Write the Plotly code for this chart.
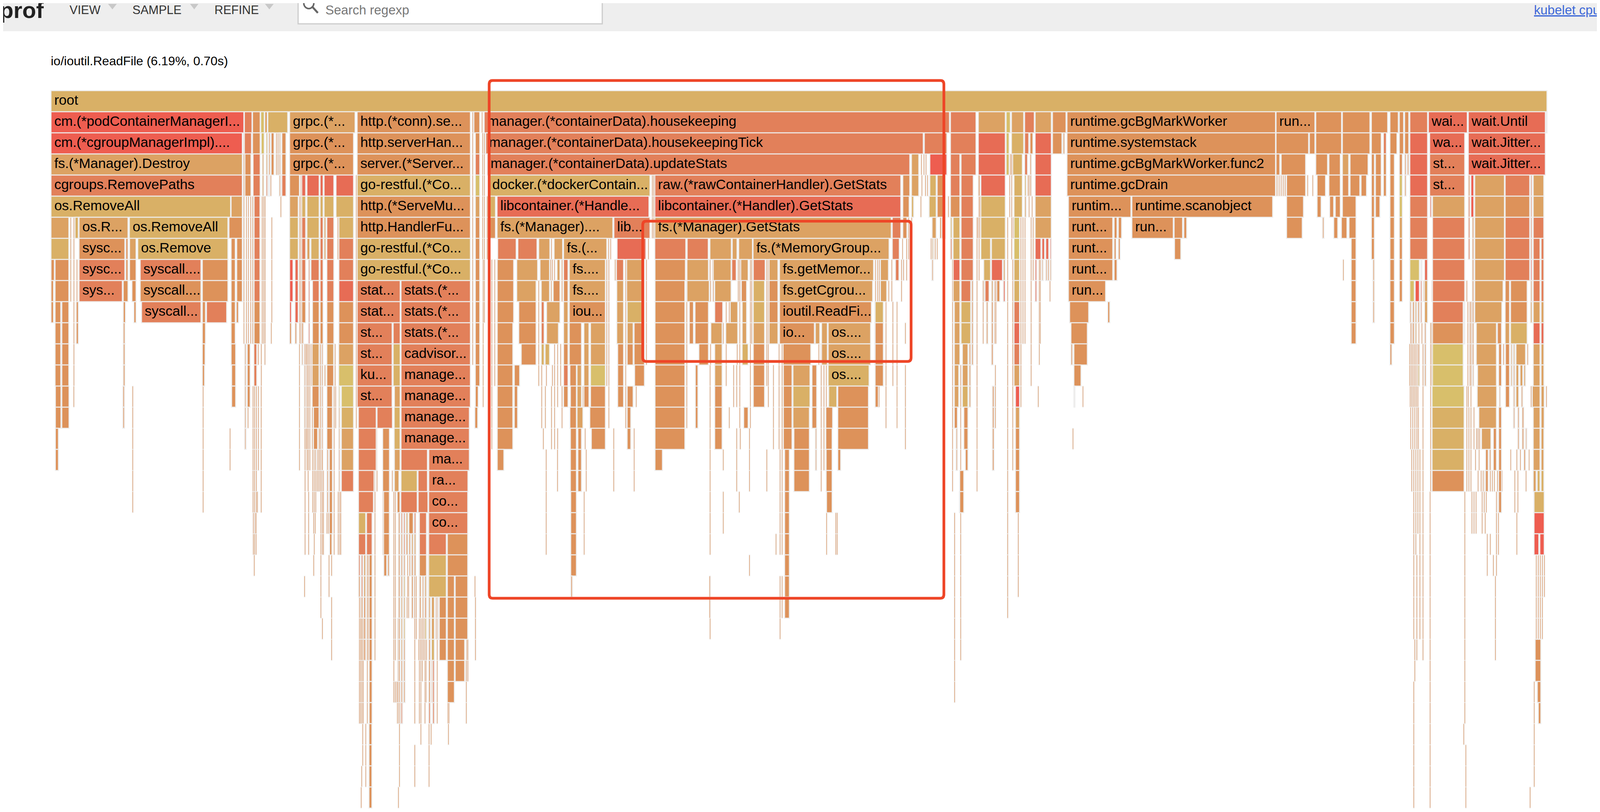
import plotly.graph_objects as go

# flame graph frames per depth: (start, end, heat, label), in samples out of 1466
F00 = [(0, 1466, 1, "root")]
F01 = [(0, 189, 6, "cm.(*podContainerManagerI..."), (189.5, 197, 4), (197.5, 205, 3), (205.5, 209, 0), (209.5, 212, 2), (212.5, 232, 1),
       (233.8, 298, 2, "grpc.(*..."), (300, 411, 3, "http.(*conn).se..."), (414.4, 420.2, 3),
       (424.5, 880.5, 4, "manager.(*containerData).housekeeping"), (881.4, 906.5, 4), (908.7, 935.2, 2), (936, 940.1, 0), (941.2, 953.2, 2),
       (954.1, 963.6, 4), (964.4, 980.3, 2), (981.4, 994.7, 3), (995.6, 1200, 3, "runtime.gcBgMarkWorker"), (1200.5, 1238.6, 3, "run..."),
       (1239.4, 1264.7, 3), (1265.5, 1292.5, 3), (1293.9, 1309.9, 3), (1312.1, 1320.3, 3), (1321.3, 1325.5, 3), (1326.5, 1330.6, 3),
       (1331.6, 1349, 4), (1349.8, 1387.9, 5, "wai..."), (1388.9, 1464.4, 5, "wait.Until"), (1465.2, 1466, 3)]
F02 = [(0, 187.5, 6, "cm.(*cgroupManagerImpl)...."), (189.5, 196.5, 4), (197.5, 205, 3), (206, 209, 0), (210.8, 212.3, 1), (213.3, 214.8, 3),
       (215.7, 218.6, 3), (223.6, 225, 2), (226.2, 230.3, 3), (233.8, 296.5, 3, "grpc.(*..."), (300, 411, 3, "http.serverHan..."), (415.8, 420.2, 3),
       (426, 854.8, 4, "manager.(*containerData).housekeepingTick"), (855.8, 878, 4), (881.4, 906.5, 4), (908.7, 935.2, 5), (936, 939, 0),
       (941.2, 953.2, 1), (954.1, 958.2, 4), (959.3, 962.3, 3), (964.4, 980.3, 5), (981.4, 990.7, 3), (991.8, 993.4, 3),
       (995.6, 1200, 3, "runtime.systemstack"), (1200.5, 1232.4, 3), (1233.2, 1238.6, 3), (1239.4, 1264.7, 3), (1265.5, 1292.5, 3),
       (1293.9, 1303.6, 3), (1305.7, 1308.6, 4), (1312.1, 1319, 3), (1321.3, 1325.5, 3), (1326.5, 1330.6, 3), (1331.6, 1349, 5),
       (1351, 1385.4, 5, "wa..."), (1388.9, 1464.4, 5, "wait.Jitter...")]
F03 = [(0, 187.5, 2, "fs.(*Manager).Destroy"), (190, 196, 3), (198, 205, 4), (207, 208.6, 2), (210.8, 212.3, 2), (213.3, 214.8, 3), (215.7, 218.6, 3),
       (223.6, 225, 3), (226.2, 230.3, 3), (233.8, 296.5, 3, "grpc.(*..."), (300, 411, 3, "server.(*Server..."), (415.8, 420.2, 4),
       (427.5, 841.6, 4, "manager.(*containerData).updateStats"), (843.2, 850.4, 2), (861.2, 878, 6), (881.4, 890.7, 4), (891.8, 906.5, 4),
       (908.7, 935.2, 5), (936, 939, 0), (942.4, 951.9, 1), (954.1, 957, 4), (959.3, 960.8, 3), (964.4, 980.3, 5),
       (995.6, 1200, 3, "runtime.gcBgMarkWorker.func2"), (1200.5, 1204.2, 3), (1205.5, 1229.5, 3), (1239.4, 1251, 3), (1252.3, 1263.5, 3),
       (1265.5, 1271.7, 2), (1273, 1290.7, 3), (1293.9, 1296.9, 3), (1297.9, 1303.6, 3), (1305.7, 1308.6, 3), (1312.1, 1316.5, 3),
       (1321.3, 1324.3, 3), (1326.5, 1328, 3), (1329.1, 1330.6, 3), (1331.6, 1349, 5), (1351, 1385.4, 4, "st..."), (1388.9, 1464.4, 5, "wait.Jitter...")]
F04 = [(0, 187.5, 4, "cgroups.RemovePaths"), (190, 196, 3), (198, 205, 4), (207, 208.6, 2), (210.8, 212.3, 4), (213.3, 214.2, 3),
       (223.6, 225, 3), (226.2, 230.3, 4), (233.8, 243.5, 3), (245.7, 249.6, 5), (250.8, 262.8, 5), (263.7, 266.7, 5), (267.6, 277.2, 5),
       (279.3, 296.5, 5), (300, 411, 1, "go-restful.(*Co..."), (415.8, 420.2, 0), (429.3, 587, 1, "docker.(*dockerContain..."),
       (591.7, 832.8, 4, "raw.(*rawContainerHandler).GetStats"), (834.7, 841.6, 3), (843.2, 850.4, 2), (861.2, 867.5, 1), (868.4, 876.5, 3),
       (881.4, 890.7, 4), (891.8, 903.8, 4), (908.7, 910.4, 3), (911.2, 935.2, 5), (943.7, 951.9, 1), (954.1, 955.7, 1), (959.3, 960.8, 3),
       (964.4, 980.3, 5), (995.6, 1200, 3, "runtime.gcDrain"), (1210.8, 1229.5, 3), (1240.7, 1249, 3), (1252.3, 1263.5, 3), (1265.5, 1271.7, 3),
       (1273, 1282.6, 3), (1283.8, 1289.2, 3), (1293.9, 1296.9, 3), (1297.9, 1303.6, 3), (1305.7, 1308.6, 3), (1312.1, 1316.5, 3), (1321.3, 1324.3, 0),
       (1326.5, 1328, 3), (1331.6, 1349, 5), (1351, 1385.4, 4, "st..."), (1388.9, 1390.5, 3), (1391.4, 1394.3, 6), (1395.2, 1424.3, 2),
       (1425, 1449.1, 4), (1450, 1451.4, 4), (1452.5, 1462.9, 2)]
F05 = [(0, 176, 1, "os.RemoveAll"), (176.5, 187.5, 2), (199, 204.8, 4), (233.8, 242.3, 2), (245.7, 249.6, 1), (250.8, 262.8, 1), (263.7, 266.7, 1),
       (267.6, 277.2, 1), (279.3, 296.5, 1), (300, 411, 3, "http.(*ServeMu..."), (415.8, 420.2, 2), (429.3, 435.6, 1),
       (437.1, 586, 5, "libcontainer.(*Handle..."), (591.7, 832.8, 5, "libcontainer.(*Handler).GetStats"), (834.7, 841, 3), (843.2, 845.4, 1),
       (860.5, 867.5, 1), (868.4, 876.5, 3), (881.4, 890.7, 3), (891.8, 903.8, 4), (911.2, 935.2, 1), (943.7, 951.9, 1), (954.1, 955.7, 2),
       (964.4, 980.3, 2), (997, 1058.3, 3, "runtim..."), (1059.2, 1197.2, 3, "runtime.scanobject"), (1210.8, 1227.4, 3), (1240.7, 1244.7, 3),
       (1253, 1257, 3), (1258.5, 1263.5, 3), (1265.5, 1278.9, 3), (1293.9, 1296.9, 3), (1297.9, 1302.3, 3), (1312.1, 1316.5, 3), (1321.3, 1324.3, 0),
       (1331.6, 1349, 4), (1351.3, 1352.8, 5), (1353.8, 1385.4, 2), (1388.9, 1390.5, 4), (1391.4, 1394.3, 6), (1395.2, 1424.3, 2), (1425, 1449.1, 3),
       (1450, 1451.4, 4), (1452.5, 1462.9, 2)]
F06 = [(0, 17.5, 2), (23.5, 26.8, 1), (27.5, 75.5, 2, "os.R..."), (76.8, 173.4, 1, "os.RemoveAll"), (174.4, 187.5, 3), (199, 204.8, 4), (233.8, 242.3, 1),
       (245.7, 249.6, 4), (250.8, 262.8, 1), (263.7, 266.7, 4), (267.6, 269.4, 2), (270.3, 277.2, 4), (282.1, 296.5, 1), (300, 411, 3, "http.HandlerFu..."),
       (415.8, 420.2, 3), (429.3, 435.6, 3), (437.1, 550.6, 2, "fs.(*Manager)...."), (551.6, 587, 4, "lib..."), (591.7, 823.4, 2, "fs.(*Manager).GetStats"),
       (824.4, 832.8, 4), (834.7, 838.8, 3), (863.4, 867.5, 2), (871, 872.7, 3), (873, 876.5, 3), (881.4, 883, 1), (884, 890.7, 1), (891.8, 903.8, 4),
       (911.2, 935.2, 1), (943.7, 949.2, 0), (964.4, 980.3, 2), (997, 1040.5, 3, "runt..."), (1041.8, 1044.7, 3), (1045.9, 1049.2, 3),
       (1059.2, 1099.8, 3, "run..."), (1100.6, 1108.9, 3), (1110.1, 1113, 3), (1210.8, 1226.2, 3), (1246, 1247.5, 3), (1257, 1261, 3), (1264.5, 1270, 3),
       (1272, 1278.9, 3), (1293.9, 1296.9, 3), (1312.1, 1316.5, 3), (1321.3, 1324.3, 2), (1331.6, 1349, 4), (1353.8, 1385.4, 4), (1388.9, 1390.5, 4),
       (1392.7, 1394.3, 3), (1395.2, 1424.3, 2), (1425, 1449.1, 4), (1450, 1451.4, 4), (1452.5, 1462.9, 4)]
F07 = [(0, 17.5, 1), (27.5, 72.4, 3, "sysc..."), (73.3, 75.5, 3), (77, 83.4, 2), (85, 173.4, 1, "os.Remove"), (176.5, 180.6, 3), (182, 187.5, 3), (199, 204.8, 4),
       (233.8, 242.3, 1), (245.7, 249.6, 4), (250.8, 253.7, 2), (254.7, 262.8, 1), (263.7, 266.7, 4), (267.6, 269.4, 2), (270.3, 277.2, 4), (282.1, 296.5, 4),
       (300, 411, 1, "go-restful.(*Co..."), (415.8, 420.2, 3), (437.7, 455.9, 4), (457.5, 476.3, 4), (477.9, 488.9, 2), (493, 501.4, 2),
       (502.3, 544.7, 2, "fs.(..."), (554.7, 583, 5), (591.7, 622.1, 4), (623.4, 644.1, 4), (645.7, 666.7, 2), (667.6, 672.3, 2), (673.9, 687.4, 2),
       (688, 821.3, 2, "fs.(*MemoryGroup..."), (824.4, 831.3, 4), (863.4, 864.8, 2), (881.4, 883, 4), (884, 890.7, 1), (891.8, 903.8, 4), (911.2, 920.7, 1),
       (921.6, 935.2, 1), (943.7, 949.2, 0), (964.4, 970.1, 5), (971, 973.7, 5), (974.8, 977.8, 5), (979, 980.3, 5), (997, 1040.5, 3, "runt..."),
       (1041.8, 1043.8, 3), (1045.9, 1047.8, 3), (1101, 1107.2, 3), (1274.1, 1278.9, 3), (1293.9, 1296.9, 3), (1312.1, 1316.5, 3), (1321.3, 1324.3, 3),
       (1331.6, 1349, 4), (1353.8, 1385.4, 4), (1388.9, 1390.5, 4), (1392.7, 1394.3, 3), (1395.2, 1424.3, 2), (1425, 1449.1, 4), (1450, 1451.4, 4),
       (1452.5, 1459.2, 4), (1460.2, 1463, 4)]
F08 = [(0, 3.3, 3), (4, 17.5, 3), (27.5, 72.4, 4, "sysc..."), (73.3, 75.5, 3), (77, 83.4, 3), (87.4, 147, 4, "syscall...."), (148.3, 173.4, 3), (176.5, 180.6, 3),
       (182, 187.5, 3), (199, 204.8, 4), (233.8, 237.2, 6), (239.1, 242.3, 5), (245.7, 249.6, 4), (252.3, 253.7, 4), (254.7, 262.8, 4), (263.7, 266.7, 4),
       (270.3, 277.2, 4), (282.1, 296.5, 4), (300, 411, 1, "go-restful.(*Co..."), (415.8, 420.2, 3), (437.3, 453.4, 3), (456.4, 476.9, 2), (479.2, 488.6, 2),
       (495.9, 498.8, 2), (502.3, 506.7, 4), (507.9, 543.3, 2, "fs...."), (554.1, 561.1, 4), (564.1, 581.6, 2), (591.9, 621.7, 3), (623.2, 644.3, 2),
       (649, 666.5, 2), (667.1, 671.5, 4), (675.9, 683.2, 2), (688.2, 699.9, 4), (703.7, 712.4, 2), (713.9, 806.1, 2, "fs.getMemor..."), (812.8, 820.7, 2),
       (827.5, 831, 4), (863.2, 864.6, 3), (884.1, 890.7, 5), (891.8, 903.8, 4), (914, 920.7, 1), (921.6, 932.4, 5), (933.3, 935, 2), (943.7, 949.2, 1),
       (964.4, 966, 5), (971, 972.3, 3), (974.8, 976.2, 3), (979, 980.3, 3), (997, 1040.5, 3, "runt..."), (1041.8, 1044.7, 3), (1274.1, 1278.9, 3),
       (1295.4, 1296.9, 3), (1312.1, 1316.5, 3), (1321.3, 1324.3, 3), (1331.6, 1341, 0), (1342.5, 1343.5, 4), (1346, 1349, 5), (1353.8, 1385.4, 4),
       (1392.7, 1394.3, 3), (1395.2, 1424.3, 2), (1425, 1449.1, 4), (1450, 1451.4, 6), (1452.5, 1459.2, 4), (1460.2, 1463, 4)]
F09 = [(0, 2.5, 3), (4, 17.5, 3), (27.5, 69.9, 4, "sys..."), (70.8, 75.5, 3), (79.3, 83.4, 3), (87.4, 147, 3, "syscall...."), (148.3, 173.4, 3), (176.5, 180.6, 3),
       (182, 187.5, 3), (199, 204.8, 4), (233.8, 237.2, 6), (239.1, 242.3, 5), (245.7, 249.6, 4), (252.3, 253.7, 5), (256.2, 262.8, 4), (263.7, 266.7, 4),
       (270.3, 277.2, 4), (282.1, 296.5, 5), (300, 342.2, 4, "stat..."), (343, 411, 4, "stats.(*..."), (415.8, 420.2, 3), (437.3, 453.4, 3), (456.4, 475.4, 2),
       (480.4, 488.6, 2), (492.1, 498.8, 3), (502.3, 506.7, 3), (507.9, 543.3, 2, "fs...."), (554.4, 561.1, 2), (564.1, 581.6, 2), (591.9, 621.2, 3),
       (623.2, 645.1, 2), (650.4, 666.5, 2), (676.5, 681.7, 3), (688.2, 699.3, 1), (703.7, 712.4, 3), (713.9, 805.2, 2, "fs.getCgrou..."), (812.8, 819, 2),
       (884.1, 890.7, 2), (891.8, 901.3, 4), (902.2, 903.8, 3), (915.3, 919.3, 4), (921.6, 923.3, 2), (926.8, 929.8, 3), (933.3, 935, 5), (943.7, 949.2, 1),
       (964.4, 966, 5), (997, 1033.5, 3, "run..."), (1274.1, 1278.9, 3), (1295.4, 1296.9, 3), (1312.1, 1316.5, 3), (1321.3, 1324.3, 3), (1331.6, 1336, 0),
       (1336.8, 1341, 6), (1342.1, 1343.5, 5), (1346, 1349, 2), (1353.8, 1385.4, 4), (1392.7, 1394.3, 3), (1395.2, 1423, 2), (1425, 1429.3, 3),
       (1430.3, 1446.6, 3), (1450, 1451.4, 3), (1452.5, 1459.2, 4), (1460.2, 1463, 4)]
F10 = [(0, 2.5, 3), (4, 9.6, 3), (10.6, 17.5, 3), (24.7, 26.9, 3), (70.8, 73, 3), (81.2, 83.4, 3), (88.7, 147, 4, "syscall..."), (148.3, 151.4, 3), (152.4, 172.2, 4),
       (176.5, 180.6, 3), (181.6, 183.8, 3), (199, 204.8, 3), (233.8, 235.7, 6), (239.1, 242.3, 5), (245.7, 249.6, 3), (252.3, 253.7, 4), (256.2, 262.8, 3),
       (263.7, 266.7, 3), (270.3, 277.2, 3), (282.1, 296.5, 3), (300, 342.2, 4, "stat..."), (343, 411, 4, "stats.(*..."), (415.8, 420.2, 3), (437.3, 453.4, 3),
       (458.4, 475.4, 3), (480.4, 483.3, 4), (485.6, 498.8, 2), (502.3, 506.7, 2), (507.9, 543.3, 3, "iou..."), (554.4, 561.1, 2), (564.6, 581.6, 1),
       (591.9, 621.2, 3), (625.5, 629.6, 3), (631.1, 644.3, 3), (650.4, 658.3, 4), (665.6, 673, 2), (677.3, 681.7, 2), (688.2, 699.3, 1), (703.7, 712.4, 3),
       (713.9, 804, 3, "ioutil.ReadFi..."), (807.6, 815.7, 1), (885.2, 890.7, 2), (891.8, 901.3, 1), (902.2, 903.8, 3), (916.6, 918.2, 3), (921.6, 923.3, 3),
       (943.7, 949.2, 4), (998.2, 1016.9, 3), (1035.5, 1037.6, 3), (1274.1, 1278.9, 3), (1295.4, 1296.9, 3), (1312.1, 1316.5, 3), (1331.6, 1333, 3),
       (1334.3, 1336, 3), (1336.8, 1338.3, 2), (1339.4, 1341, 3), (1342.1, 1343.5, 4), (1346, 1349, 2), (1353.8, 1383.9, 4), (1384.5, 1385.4, 3),
       (1392.7, 1394.3, 3), (1395.2, 1421.8, 2), (1425, 1429.3, 3), (1430.3, 1446.6, 3), (1449.8, 1451.4, 2), (1452.5, 1459.2, 2), (1460.2, 1463, 2)]
F11 = [(4, 9.6, 3), (10.6, 17.5, 3), (24.7, 26.9, 3), (70.8, 72.5, 3), (148.3, 151.4, 3), (176.5, 180.6, 3), (199, 204.8, 3), (233.8, 235.7, 3), (239.1, 240.8, 3),
       (245.7, 247.4, 3), (252.3, 253.7, 5), (256.2, 262.8, 3), (263.7, 266.7, 3), (270.3, 277.2, 3), (282.1, 296.5, 3), (300, 334.3, 4, "st..."), (335.3, 342.2, 4),
       (343, 411, 4, "stats.(*..."), (415.8, 420.2, 3), (437.3, 452.6, 3), (458.4, 475.4, 3), (480.4, 483.3, 4), (485.6, 497.3, 2), (502.3, 506.7, 2),
       (507.9, 519.9, 3), (522.2, 527.2, 2), (528.7, 543.3, 2), (554.4, 561.1, 2), (564.6, 570.5, 2), (571.4, 581.6, 3), (591.9, 621.2, 3), (625.5, 629.6, 3),
       (631.1, 644.3, 3), (646.6, 657.7, 2), (661.2, 673, 2), (677.3, 681.7, 2), (688.2, 699.3, 2), (703.7, 712.4, 2), (713.9, 748.1, 3, "io..."), (749, 753.4, 2),
       (755.1, 760.8, 2), (761.6, 803.2, 2, "os...."), (807.6, 815.7, 3), (885.2, 890.7, 2), (891.8, 901.3, 1), (902.2, 903.8, 3), (916.6, 918.2, 3),
       (921.6, 923.3, 3), (943.7, 949.2, 5), (999.5, 1015.6, 3), (1274.1, 1278.9, 3), (1312.1, 1316.5, 3), (1334.3, 1336, 3), (1336.8, 1338.3, 2), (1346, 1347.5, 3),
       (1353.8, 1383.9, 3), (1384.5, 1385.4, 3), (1392.7, 1394.3, 3), (1396.7, 1416.5, 2), (1417.4, 1421.5, 3), (1425, 1429.3, 2), (1430.3, 1446.6, 1),
       (1452.5, 1459.2, 5), (1460.2, 1463, 5)]
F12 = [(4, 9.6, 3), (10.6, 17.5, 3), (70.8, 72.5, 3), (148.3, 151, 3), (176.5, 181, 3), (189.8, 191.2, 3), (192.3, 195.2, 3), (198.8, 201.7, 4), (245.7, 247, 3),
       (255.9, 262.7, 2), (265.2, 266.6, 3), (270.3, 277, 2), (281.9, 296.5, 2), (300, 334.3, 4, "st..."), (335.3, 342.2, 1), (343, 411, 4, "cadvisor..."), (415.8, 420.2, 3),
       (437.3, 452.6, 3), (460.8, 475.4, 3), (480.4, 483.3, 1), (484.2, 488.6, 1), (502.3, 506.7, 3), (507.9, 519.9, 3), (522.2, 527.2, 2), (528.7, 543.3, 2),
       (555.3, 561.1, 3), (564.6, 570.5, 3), (571.4, 581.6, 3), (591.9, 621.2, 3), (634.9, 644.3, 3), (650.4, 657.7, 2), (677.3, 683.2, 1), (688.2, 699.3, 3),
       (717.4, 744.6, 3), (755.1, 760.8, 2), (761.6, 803.2, 2, "os...."), (807.6, 815.7, 3), (885.2, 890.7, 2), (893.1, 898.6, 2), (899.7, 901.3, 3), (902.2, 903.8, 3),
       (921.6, 923.3, 3), (943.7, 949.2, 4), (999.5, 1001.1, 3), (1002.4, 1015.6, 3), (1312.1, 1314, 3), (1339.6, 1341.2, 3), (1346, 1347.5, 3), (1353.8, 1383.9, 0),
       (1392.7, 1394.3, 3), (1396.7, 1416.5, 2), (1418.6, 1421.5, 3), (1425.3, 1429.3, 3), (1430.6, 1432, 2), (1433.1, 1434.5, 2), (1435.6, 1445, 2),
       (1452.5, 1459.2, 2), (1460.2, 1463, 2)]
F13 = [(4, 9.6, 3), (10.6, 17.5, 3), (70.8, 72.5, 3), (148.3, 150.5, 3), (177, 181, 3), (189.8, 191.2, 3), (192.3, 195.2, 3), (198.8, 201.7, 4), (248.2, 249.6, 3),
       (255.9, 262.7, 2), (265.2, 266.6, 3), (270.3, 277, 3), (281.9, 296.5, 0), (300, 334.3, 4, "ku..."), (335.3, 342.2, 1), (343, 411, 4, "manage..."), (415.8, 420.2, 3),
       (437.3, 452.6, 3), (454, 459.3, 3), (502.3, 506.7, 4), (508.5, 514.9, 3), (515.5, 519.9, 2), (522.2, 527.2, 2), (528.7, 543.3, 0), (555.3, 561.1, 3),
       (571.9, 581.6, 3), (591.9, 621.2, 3), (631.4, 634, 3), (650.4, 657.7, 2), (688.2, 699.3, 3), (717.7, 726.2, 3), (727.1, 743.8, 2), (745.7, 750.4, 3),
       (761.6, 801.7, 1, "os...."), (807.6, 815.7, 3), (885.2, 889.6, 2), (893.1, 898.6, 2), (899.7, 901.3, 3), (943.7, 949.2, 2), (1002.4, 1009.4, 3),
       (1339.6, 1341.2, 1), (1346, 1347.5, 3), (1353.8, 1383.9, 0), (1393, 1394.3, 3), (1397.9, 1416.5, 2), (1418.6, 1421.5, 3), (1425.3, 1429.3, 3),
       (1430.6, 1432, 2), (1433.1, 1434.5, 3), (1435.6, 1438.3, 2), (1439.6, 1442.3, 2), (1443.3, 1445, 2), (1452.5, 1459.2, 2), (1460.2, 1463, 2)]
F14 = [(4.3, 9.8, 3), (10.6, 17.7, 3), (70.4, 72, 3), (177, 181, 3), (189.8, 191.2, 3), (192.3, 195.2, 3), (248.2, 249.6, 3), (255.9, 262.7, 3), (265.2, 266.6, 3),
       (270.3, 275.8, 3), (281.9, 283.2, 0), (284.5, 296.5, 0), (300, 334.3, 4, "st..."), (336.5, 342.2, 2), (343, 411, 4, "manage..."), (415.8, 418.7, 3), (437.3, 452.6, 3),
       (454, 457.3, 3), (502.3, 506.7, 3), (509, 514.9, 3), (515.5, 519.9, 2), (522.2, 527.2, 3), (528.7, 543.3, 3), (555.3, 561.1, 3), (564.6, 570.5, 3),
       (591.9, 621.2, 3), (631.4, 634, 3), (650.4, 657.7, 3), (688.2, 699.3, 3), (717.7, 726.2, 3), (727.1, 743.8, 1), (745.7, 750.4, 3), (762.1, 770.1, 1),
       (771, 801.1, 3), (807.6, 810.8, 3), (885.2, 889.6, 2), (893.1, 898.6, 1), (899.7, 901.3, 3), (922.5, 924.2, 3), (945.1, 949.2, 6), (1002.4, 1003.4, 3),
       (1353.4, 1384.8, 0), (1397.6, 1416.7, 2), (1419.2, 1420.5, 3), (1425.3, 1429.3, 3), (1433.1, 1434.5, 3), (1435.6, 1438.3, 2), (1440.8, 1442.3, 3),
       (1451.6, 1459.2, 2), (1460.2, 1463.3, 2)]
F15 = [(4.3, 9.8, 3), (10.6, 17.7, 3), (70.4, 72, 3), (189.8, 191.2, 3), (248.2, 249.6, 3), (257.2, 262.7, 3), (265.2, 266.6, 3), (270.3, 275.8, 3), (281.9, 283.2, 3),
       (284.5, 296.5, 1), (301.2, 318.7, 4), (319.5, 334.6, 4), (336.3, 342.1, 1), (343, 410, 4, "manage..."), (415.3, 418.2, 3), (437.3, 452.6, 3), (454, 457.3, 3),
       (508.5, 514.9, 3), (515.5, 521.3, 2), (528, 543.3, 3), (564.6, 568.2, 3), (591.9, 621.2, 3), (631.4, 634, 3), (650.4, 657.7, 3), (678.8, 683.2, 3),
       (717.7, 726.2, 3), (727.1, 743.2, 2), (745.7, 750.4, 3), (759.3, 766, 3), (771, 801.1, 3), (885.2, 888.3, 3), (894.5, 898.6, 3), (922.5, 924.2, 3),
       (945.1, 949.2, 2), (1353.4, 1384.8, 1), (1399.2, 1416.5, 2), (1418.6, 1421.5, 3), (1433.1, 1434.5, 3), (1437.3, 1438.8, 3), (1441.6, 1443.3, 3),
       (1452.5, 1459.2, 2), (1460.2, 1463.3, 2)]
F16 = [(4.3, 7.3, 3), (189.8, 191.2, 3), (257.2, 261.3, 3), (265.2, 266.6, 3), (270.3, 275.8, 3), (281.9, 283.2, 3), (284.5, 296.5, 2), (301.2, 318.7, 4), (325, 331.7, 3),
       (336.3, 342.1, 1), (343, 410, 4, "manage..."), (437.3, 452.6, 3), (509, 514.9, 3), (516.3, 519.9, 3), (529.5, 543.3, 3), (564.6, 568.2, 3), (591.9, 621.2, 3),
       (650.4, 657.7, 3), (717.7, 726.2, 3), (728, 743.2, 3), (749, 750.4, 3), (759.3, 765.5, 3), (771, 801.1, 3), (886.9, 888.3, 3), (894.5, 898.6, 3), (922.5, 924.2, 3),
       (945.1, 949.2, 3), (1353.4, 1384.8, 1), (1401.8, 1411.1, 2), (1413.4, 1416.5, 3), (1418.6, 1421.5, 3), (1437.3, 1438.8, 3), (1441.6, 1443.3, 3), (1445, 1446.3, 3),
       (1452.5, 1459.2, 2), (1460.2, 1463, 2)]
F17 = [(4.3, 7.3, 3), (258.6, 260, 3), (265, 266.6, 3), (270.3, 271.8, 3), (272.8, 275.8, 3), (281.9, 283.2, 4), (284.5, 296.5, 2), (301.2, 318.7, 4), (325, 331.7, 3),
       (336.5, 342.1, 2), (343, 368.9, 4), (370.2, 410, 4, "ma..."), (437.3, 443.8, 3), (509, 514.9, 3), (516.3, 519.9, 3), (591.9, 599.2, 3), (718.9, 723.6, 3),
       (728, 743.2, 3), (749, 750.4, 3), (759.6, 765.5, 3), (771, 773.9, 3), (886.9, 888.3, 3), (896, 898.6, 3), (922.5, 924.2, 3), (945.1, 949.2, 3), (1353.4, 1384.8, 1),
       (1405.8, 1408.4, 3), (1409.5, 1411.1, 3), (1413.4, 1416.5, 3), (1418.6, 1421.5, 3), (1443.3, 1445, 3), (1452.5, 1459.2, 2), (1460.2, 1463, 2)]
F18 = [(270.3, 271.8, 3), (272.8, 275.8, 3), (281.9, 283.2, 3), (284.5, 296.5, 4), (301.2, 316.6, 4), (325, 331.7, 3), (336.5, 341, 2), (343, 358.9, 1), (359.7, 368.9, 4),
       (370.2, 408.6, 4, "ra..."), (509, 514.9, 3), (516.3, 519.9, 3), (718.9, 723.6, 3), (728, 743.2, 3), (759.6, 765.5, 3), (890.5, 894.5, 3), (945.1, 949.2, 3),
       (1353.4, 1384.8, 3), (1405.8, 1408.4, 3), (1418.6, 1421.5, 3), (1452.5, 1455.4, 2), (1456.4, 1459.2, 1), (1460.2, 1463, 1)]
F19 = [(270.3, 271.8, 3), (272.8, 275.8, 3), (301.3, 316, 4), (325.9, 331.6, 3), (339.2, 342, 3), (342.8, 358.9, 4), (359.8, 369.4, 4), (370.1, 408.4, 4, "co..."),
       (509.3, 514.9, 3), (718.9, 723.6, 3), (760, 765.5, 3), (890.5, 894.5, 3), (945.1, 949.2, 3), (1418.6, 1421.5, 3), (1453.3, 1463.3, 1)]
F20 = [(272.8, 275.8, 3), (301.3, 308.4, 1), (309.2, 314.7, 4), (325.9, 331.6, 3), (340.4, 342, 3), (343, 344.5, 4), (345.6, 347.1, 4), (348, 349.7, 2), (350.7, 355, 3),
       (355.9, 357.6, 4), (361, 368, 4), (370.1, 408.4, 4, "co..."), (509.3, 514.9, 3), (718.9, 723.6, 3), (1453.3, 1463.3, 6)]
F21 = [(273, 275.3, 3), (301.3, 308.4, 4), (309.2, 314.7, 4), (325.9, 331.6, 3), (340.4, 342, 3), (343, 344.5, 3), (345.6, 347.1, 4), (348, 349.7, 3), (350.7, 352.3, 3),
       (353.3, 355, 2), (355.9, 357.6, 2), (361, 368, 4), (370.1, 387.4, 4), (388.4, 408.4, 3), (509.3, 514.9, 3), (718.9, 723.6, 3), (1453.3, 1458, 6), (1459, 1463.3, 6)]
F22 = [(301.4, 303, 4), (304, 305.6, 4), (306.5, 308.4, 2), (311.8, 314.7, 3), (326.1, 329, 3), (329.9, 331.6, 3), (340.4, 342, 3), (343, 344.5, 3), (345.6, 347.1, 3),
       (353.3, 355, 3), (355.9, 357.6, 3), (361, 368, 3), (370.1, 387.4, 1), (388.4, 408.4, 3), (509.3, 514.9, 3), (718.9, 723.6, 3)]
F23 = [(301.4, 303, 3), (304, 305.6, 4), (306.5, 308.4, 2), (311.8, 314.7, 3), (340.4, 342, 3), (343, 344.5, 3), (345.6, 347.1, 1), (353.3, 355, 3), (361, 362.7, 3),
       (366.3, 368, 2), (370.1, 387.4, 1), (388.4, 395.3, 3), (396.1, 408.4, 3), (509.4, 511, 3), (718.9, 723.6, 3)]
F24 = [(304, 305.6, 3), (306.5, 308.4, 3), (311.8, 314.7, 3), (340.4, 342, 3), (343, 344.5, 2), (345.6, 347.1, 2), (353.3, 355, 3), (361, 362.7, 3), (366.3, 368, 3),
       (370.1, 371.8, 2), (372.9, 375.7, 2), (378.1, 379.4, 3), (380.5, 387.4, 3), (388.4, 395.3, 3), (396.1, 408.4, 3), (718.9, 723.6, 3)]
F25 = [(306.5, 308.4, 3), (311.8, 314.7, 3), (340.4, 342, 3), (343, 344.5, 2), (345.6, 347.1, 1), (366.3, 368, 1), (370.1, 371.8, 2), (372.9, 375.7, 2), (378.1, 379.4, 3),
       (380.5, 387.4, 3), (388.4, 395.3, 3), (396.1, 408.4, 3)]
F26 = [(306.5, 308.4, 3), (311.8, 314.7, 3), (340.4, 342, 3), (343, 344.5, 2), (345.6, 347.1, 3), (370.1, 371.8, 3), (372.9, 375.7, 1), (380.5, 387.4, 3), (388.4, 395.3, 3),
       (396.1, 405.4, 3), (1454.4, 1460, 3)]
F27 = [(311.8, 314.7, 3), (340.4, 342, 3), (343, 344.5, 3), (345.6, 347.1, 3), (370.1, 371.8, 3), (374, 375.7, 4), (388.4, 395.3, 3), (396.1, 405.4, 3), (1454.4, 1460, 3)]
F28 = [(311.8, 314.7, 3), (343, 344.5, 3), (345.6, 347.1, 3), (370.1, 371.8, 3), (374, 375.7, 4), (388.4, 395.3, 3), (1456.5, 1460, 3)]
F29 = [(311.8, 314.7, 3), (343, 344.5, 4), (370.1, 371.8, 4), (374, 375.7, 4), (1457.5, 1460, 3)]
F30 = [(311.6, 314.5, 3)]
F31 = [(311.6, 314.5, 3)]
F32 = [(311.6, 314.5, 3)]
F33 = [(311.6, 314.5, 3)]

# one-sample frames too thin to carry a fill of their own, per depth
T01 = [412.8, 422]
T02 = [188.6, 220.4, 222, 412.8, 422.5, 424.2]
T03 = [188.6, 220.4, 222, 412.8, 422.5, 424.2, 852.5, 855, 857, 893, 937, 939.8, 941]
T04 = [188.6, 215, 225.5, 244.6, 298.7, 412.8, 422.5, 424.2, 588.8, 590.3, 853, 856.5, 858.5, 939, 941, 957, 958, 1201, 1203, 1205, 1207, 1208.9, 1231, 1236]
T05 = [188.6, 191, 193, 195.2, 197.2, 206.5, 208, 209.3, 224.8, 243.3, 244.6, 298.7, 412.8, 422.5, 424.2, 427, 588.8, 590.3, 852, 879, 909, 910, 939, 941, 958, 961]
T06 = [18.9, 22, 188.6, 191, 193, 195.2, 197.2, 206.5, 208, 209.3, 215.9, 243.3, 244.6, 280.7, 298.7, 412.8, 422.5, 424.2, 427, 588.8, 590.3, 840, 843, 907, 908, 909.5, 937, 941, 942.5, 950, 952, 954, 960, 962]
T07 = [18.9, 22, 188.6, 191, 193, 195.2, 197.2, 206.5, 208, 209.3, 215.9, 243.3, 244.6, 280.7, 298.7, 412.8, 422.5, 424.2, 427, 490, 546, 548, 585, 834, 838, 840, 862, 866, 868, 907, 909, 937, 941, 950, 952, 954, 960, 962]
T08 = [18.9, 22, 25, 188.6, 191, 193, 195.2, 197.2, 206.5, 208, 209.3, 215.9, 243.3, 244.6, 298.7, 412.8, 424.2, 423, 431.5, 434.4, 489.2, 490.9, 493, 500.3, 544.2, 546.2, 552.4, 562.7, 583, 645.4, 648.1, 673, 674.5, 684.9, 686.2, 701, 702.5, 807.5, 809.5, 811.2, 823.5, 833, 835, 838, 883, 907, 909, 937, 942, 950, 952, 954, 960, 962, 968, 969, 977, 1266]
T09 = [18.9, 22, 25, 188.6, 191, 193, 195.2, 197.2, 206.5, 208, 209.3, 215.9, 243.3, 244.6, 298.7, 412.8, 424.2, 423, 431.5, 434.4, 477.5, 489.8, 500.3, 544.2, 546.2, 562.7, 583, 622.6, 645.9, 648.5, 673, 674.5, 684.9, 686.2, 701, 702.5, 807.5, 809.5, 811.2, 820.5, 823.5, 833, 883, 907, 913, 914.5, 924.5, 925.5, 937, 942, 950, 952, 954, 960, 968, 969, 978.5, 1343, 1345, 1353, 1384, 1387]
T10 = [22, 25, 188.6, 191, 193, 195.2, 197.2, 206.5, 208, 209.3, 215.9, 243.3, 244.6, 298.7, 412.8, 424.2, 423, 431.5, 434.4, 477.5, 544.2, 546.2, 562.7, 583, 622.6, 661.2, 664.2, 674.5, 684.9, 686.2, 701, 702.5, 807, 817.8, 824.5, 828.6, 883, 907, 913, 924.5, 925.5, 937, 942, 950, 952, 954, 960, 968, 969, 1388, 1390, 1391]
T11 = [22, 188.6, 191, 193, 195.2, 197.2, 206.5, 208, 209.3, 215.4, 243.3, 244.6, 298.7, 412.8, 423, 431.5, 434.4, 477.5, 544.2, 546.2, 562.7, 583, 622.6, 658.3, 674.5, 684.9, 686.2, 701, 702.5, 807, 817.8, 824.5, 828.6, 836.8, 883, 907, 913, 924.5, 925.5, 937, 942, 950, 952, 954, 960, 968, 969, 1332, 1333.3, 1340, 1343, 1351.5, 1352.8, 1388, 1390, 1391]
T12 = [22, 202.7, 205.6, 209.2, 243, 248.3, 249.5, 250.4, 251.7, 253.2, 254.8, 263.5, 278, 298.7, 412.8, 423, 431.5, 434.4, 477.5, 493, 496, 499, 544.2, 546.2, 562.7, 583, 622.6, 645.9, 661.2, 672, 674.5, 684.9, 701, 702.5, 713, 716, 752, 754.3, 807, 817.8, 824.5, 828.6, 883, 907, 937, 942, 950, 960, 968, 1331, 1332.5, 1334, 1335.5, 1337, 1338.5, 1344, 1351.5, 1352.8, 1388, 1390, 1391, 1423, 1446.6]
T13 = [22, 205.6, 243, 250.4, 251.7, 253.2, 254.8, 263.5, 268, 278, 298.7, 423, 431.5, 434.4, 477.5, 480.4, 485, 490.9, 493, 496, 499, 544.2, 546.2, 562.7, 622.6, 645.4, 661.2, 668.5, 671.5, 674.5, 684.9, 701, 702.5, 707.5, 713, 716, 754.3, 757, 759.3, 817.8, 824.5, 828.6, 836.8, 883, 891, 907, 925, 937, 942, 950, 960, 1331, 1332.5, 1334, 1335.5, 1337, 1338.5, 1344, 1351.5, 1352.8, 1388, 1390, 1391]
T14 = [21.9, 79.6, 148.6, 197.5, 199, 200.8, 202.8, 205.5, 243, 250.4, 251.7, 253.2, 263.5, 277, 278.5, 298.7, 423, 431.5, 480.4, 484, 490, 493, 496, 500.3, 521, 546.2, 562.7, 573, 622.6, 645.4, 668.5, 671.5, 674.5, 684.9, 702.5, 707.5, 713, 716, 754.3, 757, 759.3, 811, 817.8, 828.6, 836.8, 883, 891, 907, 925, 937, 942, 950, 967, 1010.8, 1331.5, 1333, 1334.5, 1336, 1337.5, 1339, 1344, 1351.5, 1387, 1388.5, 1391, 1450, 1465]
T15 = [79.6, 148.6, 192.6, 197.5, 199, 200.8, 202.8, 205.5, 243, 250.4, 251.7, 253.2, 255.6, 263.5, 277, 278.5, 298.7, 431.5, 480.4, 484, 490, 493, 500.3, 546.2, 562.7, 622.6, 645.4, 664.2, 674.5, 684.9, 707.5, 713, 716, 754.3, 757, 817.8, 828.6, 836.8, 883, 891, 907, 925, 937, 942, 1332, 1334, 1336, 1338, 1339.5, 1344, 1351.5, 1387, 1389, 1391, 1394]
T16 = [79.6, 148.6, 175, 197.5, 199, 200.8, 202.8, 205.5, 243, 248.3, 249.5, 250.5, 251.7, 253.2, 255.6, 262.4, 263.5, 277, 318.5, 431.5, 482, 490, 493, 496, 523, 551, 571, 645.4, 671.5, 675, 684, 707.5, 713, 716, 754.3, 757, 836.8, 883, 891, 907, 937, 942, 1001, 1332, 1334, 1336, 1338, 1339.5, 1344, 1351.5, 1387, 1389, 1391, 1394, 1396.5, 1398, 1399.5]
T17 = [79.6, 148.6, 175, 197.5, 199, 200.8, 202.8, 205.5, 243, 248.5, 250.5, 251.7, 253.2, 256, 257.5, 261, 262.4, 263.7, 277, 318.5, 484.8, 495.9, 524, 551, 571, 645.4, 658.3, 671.5, 684, 701, 714, 716, 754.3, 757, 883, 891, 907, 937, 942, 1333, 1335, 1337, 1339, 1341, 1344, 1351.5, 1387, 1389, 1391, 1395.5, 1399, 1430, 1436, 1439.5, 1448]
T18 = [79.6, 148.6, 197.5, 199, 200.8, 205.5, 248.5, 251.5, 256, 257.5, 259, 260.5, 262, 263.5, 265, 266.5, 277, 316.6, 319, 334, 336, 484.8, 495.9, 524, 551, 571, 645.4, 671.5, 684, 701, 714, 716, 754.3, 883, 891, 907, 937, 1333, 1335, 1337, 1339, 1341, 1344, 1351.5, 1387, 1389, 1391, 1398, 1401, 1403, 1405, 1410, 1412, 1414, 1417, 1421.5, 1434, 1437, 1445]
T19 = [79.6, 148.6, 197.5, 199, 200.8, 201.8, 205.5, 248.5, 252, 256, 257.5, 259, 264, 265.5, 266.5, 277, 281, 282.5, 283.5, 317, 325, 335.5, 337, 484.8, 522, 645.4, 658.3, 674, 714, 716, 890, 891, 937, 1335, 1337, 1339, 1341, 1344, 1351, 1385, 1392, 1394, 1396, 1402, 1404, 1406, 1416, 1418, 1434, 1437, 1453]
T20 = [197.8, 199.5, 200.5, 248.5, 252, 257, 258.5, 264, 265.5, 266.5, 270, 271.5, 277, 281, 282.5, 283.5, 317, 325, 335.5, 337, 360.5, 369.4, 484.8, 522, 645.4, 658.3, 714, 716, 759.6, 768.6, 770, 885, 891, 937, 947.4, 1335, 1337, 1339, 1341, 1344, 1351, 1385, 1392, 1394, 1396, 1402, 1405, 1416, 1418, 1436]
T21 = [197.8, 199, 200.5, 248.5, 252, 257.5, 264, 265.5, 266.5, 277, 281, 282.5, 283.5, 317, 325, 335.5, 337, 360.5, 369.4, 484.8, 522, 645.4, 714, 716, 759.6, 768.6, 770, 710, 885, 891, 937, 947.4, 1335, 1337, 1341, 1344, 1351, 1385, 1407, 1410, 1416, 1418, 1436]
T22 = [198.7, 257, 264, 272, 274.5, 309.5, 310.6, 317, 335.5, 337, 349, 351, 352.5, 360.5, 369.4, 684, 885, 891, 937, 947.4, 1335, 1338, 1341, 1344, 1351, 1385, 1407, 1413, 1416, 1455, 1457, 1459, 1461, 1463]
T23 = [248, 264, 272, 309.5, 310.6, 317, 335.5, 337, 349, 350, 356, 357.5, 360.5, 364, 365.5, 369.4, 415, 645.4, 714, 716, 645, 885, 891, 937, 947.4, 1335, 1338, 1341, 1344, 1351, 1385, 1415, 1455, 1457, 1459, 1461, 1463]
T24 = [264, 274.5, 301.8, 303, 309.5, 310.6, 317, 335.5, 337, 348.5, 350, 356, 357.5, 360.5, 364, 365.5, 369.4, 377, 415.5, 645.4, 645, 714, 716, 885, 891, 937, 1335, 1338, 1341, 1344, 1351, 1385, 1415, 1455, 1457, 1459, 1461]
T25 = [265.5, 274.5, 301.8, 303, 304, 305.3, 309.5, 310.6, 317, 335.5, 337, 339.5, 356, 357.5, 360.5, 362, 363.5, 365, 369.4, 377, 415.5, 645.4, 714, 885, 891, 1335, 1338, 1341, 1344, 1351, 1385, 1415, 1455, 1457, 1459, 1461]
T26 = [274.5, 301.8, 303, 304, 305.3, 309.5, 310.6, 317, 335.5, 337, 339.5, 356, 360, 361.5, 363, 364.5, 366, 367.5, 378, 407, 408, 415.5, 885, 891, 1336, 1338, 1344, 1351, 1385, 1415]
T27 = [301.8, 303, 304.3, 305.5, 309.5, 335.5, 339.5, 356, 360.5, 362, 363.5, 366, 367, 373, 378, 406.5, 408, 885, 1336, 1351, 1385]
T28 = [301.8, 303, 304.3, 305.5, 309.5, 335.5, 337, 338.5, 339.5, 341, 342.5, 356, 360.5, 362, 366, 367, 373, 378, 406.5, 885, 1335, 1351, 1385, 1453]
T29 = [301.8, 303, 304.3, 305.5, 309.5, 339, 340.5, 342, 356, 360.5, 362, 366, 373.5, 378, 388.5, 389.5, 406.5, 1335, 1351, 1385, 1453]
T30 = [305, 308, 341, 362, 370, 372, 389, 1335, 1351, 1384, 1453]
T31 = [305, 308, 341, 356, 370, 1335, 1351, 1386, 1453]
T32 = [304, 308, 341, 356, 370, 1335, 1351, 1386, 1453]
T33 = [303.5, 340, 1335, 1351, 1386, 1449]

FRAME_ROWS = [F00, F01, F02, F03, F04, F05, F06, F07, F08, F09, F10, F11, F12, F13, F14, F15, F16, F17,
              F18, F19, F20, F21, F22, F23, F24, F25, F26, F27, F28, F29, F30, F31, F32, F33]
THIN_ROWS = [[], T01, T02, T03, T04, T05, T06, T07, T08, T09, T10, T11, T12, T13, T14, T15, T16, T17,
             T18, T19, T20, T21, T22, T23, T24, T25, T26, T27, T28, T29, T30, T31, T32, T33]

HEAT_COLORS = ["#d8bf6b", "#d9b066", "#dca263", "#dd925a", "#e2805a", "#e76c55", "#ee5d50"]
THIN_WIDTH = 1.0

# reference picture size, and the page the figure lands in (body margin is 8px)
W, H = 4782, 2078
PAGE_W, PAGE_H = 4072, 2078
BODY = 8
FONT = "Liberation Sans"
RED = "#ee4527"


def px_x(x):
    return (x * PAGE_W / W - BODY) / (PAGE_W - 2 * BODY)


def px_y(y):
    return 1 - (y * PAGE_H / H - BODY) / (PAGE_H - 2 * BODY)


def rounded_box(x0, y0, x1, y1, r=10):
    a, b, c, d = px_x(x0), px_y(y0), px_x(x1), px_y(y1)
    ax, ay = r / W, r / H
    return (f"M {a + ax},{b} L {c - ax},{b} Q {c},{b} {c},{b - ay} L {c},{d + ay} Q {c},{d} {c - ax},{d} "
            f"L {a + ax},{d} Q {a},{d} {a},{d + ay} L {a},{b - ay} Q {a},{b} {a + ax},{b} Z")


def triangle(x0, x1, y0, y1):
    return f"M {px_x(x0)},{px_y(y0)} L {px_x(x1)},{px_y(y0)} L {px_x((x0 + x1) / 2)},{px_y(y1)} Z"


def note(text, x, y, size, color="#000000", **kw):
    return dict(text=text, x=px_x(x), y=px_y(y), xref="paper", yref="paper", showarrow=False, xanchor="left",
                yanchor="middle", font=dict(family=FONT, size=size, color=color), **kw)


starts, widths, depths, colors = [], [], [], []
label_x, label_y, labels = [], [], []
for depth, row in enumerate(FRAME_ROWS):
    for frame in row:
        starts.append(frame[0])
        widths.append(frame[1] - frame[0])
        depths.append(depth)
        colors.append(HEAT_COLORS[frame[2]])
        if len(frame) > 3:
            label_x.append(frame[0] + 3.2)
            label_y.append(depth)
            labels.append(frame[3])

thin_x, thin_y = [], []
for depth, row in enumerate(THIN_ROWS):
    for pos in row:
        thin_x.append(pos)
        thin_y.append(depth)

fig = go.Figure()
fig.add_trace(go.Bar(y=thin_y, x=[THIN_WIDTH] * len(thin_x), base=thin_x, orientation="h", width=1,
                     marker=dict(color="#dd925a", line=dict(color="#eeeeee", width=1.4)), hoverinfo="skip"))
fig.add_trace(go.Bar(y=depths, x=widths, base=starts, orientation="h", width=1,
                     marker=dict(color=colors, line=dict(color="#eeeeee", width=2.6)), hoverinfo="skip"))
fig.add_trace(go.Scatter(x=label_x, y=label_y, text=labels, mode="text", textposition="middle right",
                         textfont=dict(family=FONT, size=35.5, color="#000000"), hoverinfo="skip"))

shapes = [
    dict(type="rect", xref="paper", yref="paper", x0=0, x1=1, y0=px_y(80), y1=1, fillcolor="#eeeeee", line_width=0, layer="below"),
    dict(type="rect", xref="paper", yref="paper", x0=px_x(891), x1=px_x(1800), y0=px_y(61), y1=px_y(-10), fillcolor="#ffffff",
         line=dict(color="#cccccc", width=3), layer="below"),
    dict(type="path", path=triangle(323, 349, 10, 24), xref="paper", yref="paper", fillcolor="#c8c8c8", line_width=0),
    dict(type="path", path=triangle(568, 593, 10, 24), xref="paper", yref="paper", fillcolor="#c8c8c8", line_width=0),
    dict(type="path", path=triangle(792, 818, 10, 24), xref="paper", yref="paper", fillcolor="#c8c8c8", line_width=0),
    dict(type="circle", xref="paper", yref="paper", x0=px_x(908), x1=px_x(938), y0=px_y(22), y1=px_y(-6), line=dict(color="#666666", width=4)),
    dict(type="line", xref="paper", yref="paper", x0=px_x(932), x1=px_x(950), y0=px_y(16), y1=px_y(33), line=dict(color="#666666", width=5)),
    dict(type="path", path=rounded_box(1462, 206, 2821, 1531), xref="paper", yref="paper", line=dict(color=RED, width=7)),
    dict(type="path", path=rounded_box(1921, 566, 2723, 925), xref="paper", yref="paper", line=dict(color=RED, width=7)),
]

annotations = [
    note("<b>prof</b>", -4, 26, 58, "#222222"),
    note("VIEW", 205, 26, 31, "#333333"),
    note("SAMPLE", 394, 26, 31, "#333333"),
    note("REFINE", 639, 26, 31, "#333333"),
    note("Search regexp", 970, 26, 33, "#777777"),
    note("<u>kubelet cpu</u>", 4582, 26, 33, "#3d68d8"),
    note("io/ioutil.ReadFile (6.19%, 0.70s)", 149, 156, 32),
]

# no fixed size: the figure takes the browser window
fig.update_layout(
    margin=dict(l=0, r=0, t=0, b=0),
    paper_bgcolor="#ffffff",
    plot_bgcolor="#ffffff",
    barmode="overlay",
    showlegend=False,
    shapes=shapes,
    annotations=annotations,
    xaxis=dict(range=[-46.9, 1514.9], visible=False, fixedrange=True),
    yaxis=dict(range=[33.537, -4.648], visible=False, fixedrange=True),
)

fig.write_html("out.html")
